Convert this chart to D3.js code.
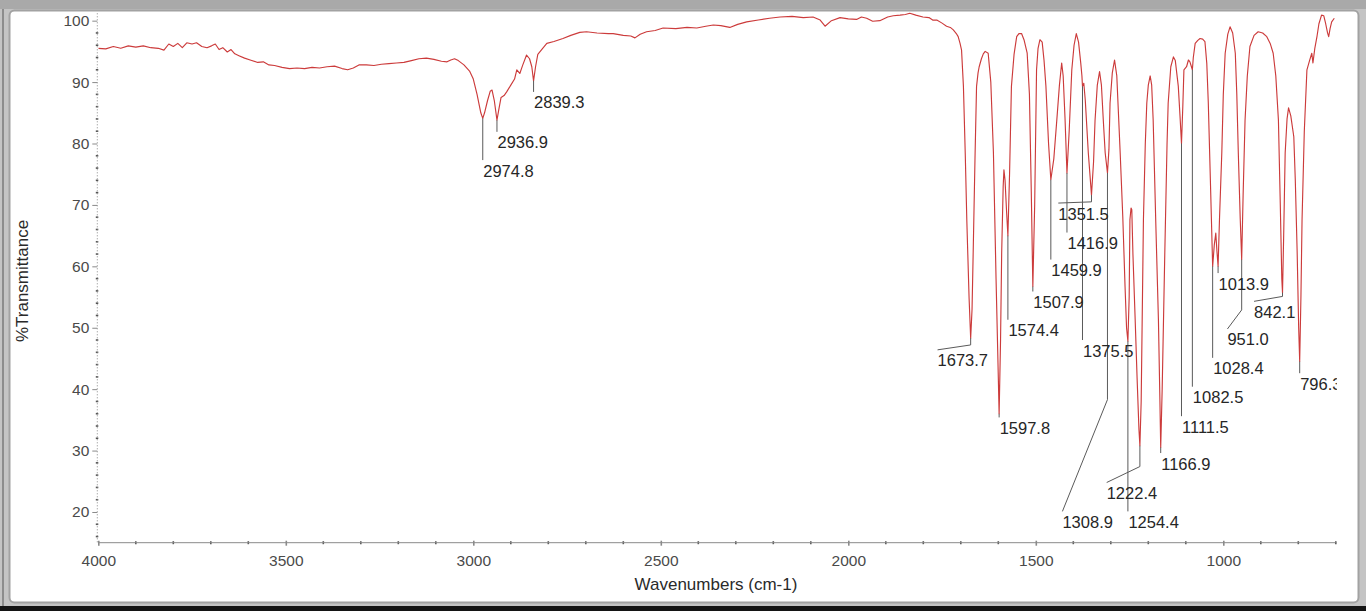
<!DOCTYPE html>
<html>
<head>
<meta charset="utf-8">
<script src="https://cdn.jsdelivr.net/npm/d3@7/dist/d3.min.js"></script>
<style>
    html, body { margin: 0; padding: 0; background: #c4c4c4; }
    svg { display: block; }
    .axis text { font-family: "Liberation Sans", Arial, sans-serif; font-size: 15.5px; fill: #4a4a4a; }
    .axis path, .axis line { stroke: #8a8a8a; }
    .peak-label { font-family: "Liberation Sans", Arial, sans-serif; font-size: 16.5px; fill: #262626; }
    .title { font-family: "Liberation Sans", Arial, sans-serif; font-size: 17px; fill: #2a2a2a; }
</style>
</head>
<body>
<div id="chart"></div>
<script>
// Spectrum as [wavenumber, %T], split by region
const highRegion = [
    [4000, 95.5], [3980, 95.4], [3960, 95.8], [3940, 95.5], [3920, 95.9], [3900, 95.7], [3880, 95.9],
    [3860, 95.6], [3840, 95.5], [3825, 95.2], [3812, 96.2], [3800, 95.8], [3788, 96.3], [3776, 95.6],
    [3764, 96.4], [3750, 96.2], [3738, 96.4], [3724, 95.8], [3710, 95.6], [3698, 95.9], [3688, 96.2],
    [3678, 95.3], [3668, 95.6], [3656, 94.9], [3646, 95.3], [3636, 94.6], [3625, 94.3], [3610, 93.9],
    [3595, 93.6], [3575, 93.2], [3560, 93.3], [3545, 92.8], [3530, 92.7], [3510, 92.4], [3490, 92.2],
    [3470, 92.3], [3450, 92.2], [3430, 92.4], [3410, 92.3], [3390, 92.5], [3370, 92.6], [3350, 92.2],
    [3335, 92.0], [3320, 92.3], [3305, 92.8], [3285, 92.8], [3265, 92.7], [3245, 92.9], [3225, 93.0],
    [3205, 93.1], [3185, 93.2], [3165, 93.5], [3145, 93.8], [3125, 93.9], [3105, 93.7], [3085, 93.4],
    [3070, 93.3], [3060, 93.6], [3050, 93.8], [3040, 93.5], [3025, 92.8]
];

const chStretch = [
    [3010, 91.8], [3000, 90.5], [2990, 88.0], [2980, 85.0], [2974.8, 84.1], [2970, 85.0], [2962, 87.0],
    [2955, 88.5], [2950, 88.7], [2944, 87.0], [2936.9, 83.8], [2932, 85.5], [2926, 87.5], [2918, 87.8],
    [2911, 88.4], [2900, 89.5], [2890, 90.5], [2884, 92.0], [2876, 91.4], [2868, 92.8], [2858, 94.4],
    [2850, 93.8], [2844, 92.5], [2839.3, 90.2], [2834, 92.5], [2828, 94.5], [2815, 95.5], [2804, 96.3]
];

const midRegion = [
    [2785, 96.6], [2761, 97.1], [2740, 97.6], [2716, 98.1], [2698, 98.2], [2670, 98.0], [2640, 97.9],
    [2627, 97.9], [2600, 97.6], [2580, 97.5], [2569, 97.2], [2555, 97.8], [2538, 98.2], [2515, 98.4],
    [2494, 98.8], [2460, 98.7], [2430, 98.9], [2404, 98.8], [2380, 99.1], [2360, 99.3], [2340, 99.2],
    [2316, 98.9], [2295, 99.4], [2271, 99.8], [2240, 100.1], [2210, 100.4], [2182, 100.6], [2150, 100.7],
    [2120, 100.5], [2094, 100.6], [2075, 100.1], [2062, 99.1], [2045, 100.0], [2022, 100.5], [2000, 100.3],
    [1978, 100.2], [1965, 100.6], [1951, 100.4], [1935, 99.9], [1916, 100.0], [1895, 100.6], [1880, 100.8],
    [1862, 100.9], [1848, 101.0], [1836, 101.2], [1820, 100.9], [1801, 100.6], [1785, 100.5], [1775, 100.1],
    [1764, 100.1], [1750, 99.6], [1738, 99.1], [1728, 98.9], [1720, 98.5], [1712, 97.9], [1707, 97.4],
    [1702, 96.3], [1698, 95.2]
];

const fingerprint = [
    [1693, 89.3], [1688, 78.0], [1684, 67.6], [1678, 55.0], [1673.7, 48.3], [1670, 53.0], [1667, 62.2],
    [1662, 78.0], [1658, 89.3], [1654, 91.5], [1651, 92.5], [1645, 93.8], [1640, 94.6], [1635, 95.0],
    [1627, 94.7], [1620, 90.0], [1613, 78.5], [1606, 58.0], [1600, 42.0], [1597.8, 36.0], [1594, 48.0],
    [1591, 62.2], [1587, 73.0], [1585, 75.7], [1582, 74.0], [1578, 69.0], [1574.4, 65.0], [1570, 75.0],
    [1565, 89.3], [1558, 94.5], [1551, 97.4], [1545, 97.9], [1538, 97.9], [1531, 96.8], [1523, 94.7],
    [1517, 88.0], [1512, 72.0], [1507.9, 56.7], [1503, 70.0], [1498, 92.0], [1494, 95.5], [1489, 96.9],
    [1483, 96.5], [1478, 93.5], [1473, 89.3], [1466, 80.0], [1459.9, 74.1], [1452, 77.5], [1444, 83.8],
    [1437, 89.5], [1431, 93.1], [1427, 91.0], [1422, 84.0], [1416.9, 75.2], [1411, 82.0], [1404, 92.0],
    [1398, 96.0], [1392, 97.9], [1386, 96.5], [1380, 93.0], [1377, 91.0], [1375.5, 89.3], [1372, 89.8],
    [1368, 87.0], [1360, 78.5], [1351.5, 71.6], [1346, 77.0], [1342, 83.8], [1336, 89.5], [1330, 91.7],
    [1325, 89.5], [1320, 83.8], [1315, 78.5], [1308.9, 75.2], [1305, 79.0], [1302, 86.6], [1296, 91.5],
    [1290, 93.6], [1284, 91.0], [1275, 78.5], [1268, 68.0], [1262, 56.7], [1258, 50.0], [1254.4, 47.8],
    [1251, 55.0], [1249, 67.6], [1246, 69.5], [1244, 69.2], [1241, 62.0], [1235, 51.3], [1230, 42.0],
    [1225, 33.5], [1222.4, 30.8], [1219, 38.0], [1213, 67.6], [1208, 80.0], [1204, 86.6], [1200, 89.5],
    [1195, 91.0], [1191, 89.5], [1187, 83.8], [1180, 67.0], [1173, 51.3], [1169, 38.0], [1166.9, 30.5],
    [1163, 40.0], [1156, 62.2], [1150, 80.0], [1147, 86.6], [1140, 92.5], [1133, 94.1], [1128, 93.5],
    [1120, 89.3], [1115, 84.0], [1111.5, 80.0], [1108, 86.0], [1105, 92.0], [1098, 92.5], [1093, 93.6],
    [1089, 93.3], [1085, 92.5], [1082.5, 92.0], [1080, 94.0], [1075, 96.3], [1068, 96.8], [1062, 97.1],
    [1055, 97.0], [1049, 96.6], [1044, 93.0], [1040, 86.6], [1034, 73.0], [1028.4, 60.0], [1024, 63.5],
    [1020, 65.4], [1017, 62.5], [1013.9, 60.0], [1010, 68.0], [1004, 78.5], [1000, 88.0], [995, 94.7],
    [988, 97.8], [982, 99.0], [975, 98.0], [968, 94.7], [964, 88.0], [960, 78.5], [955, 68.0], [951.0, 61.1],
    [947, 72.0], [942, 83.8], [936, 91.0], [929, 95.8], [918, 97.6], [907, 98.2], [895, 98.0], [884, 97.4],
    [875, 96.3], [867, 94.7], [860, 91.0], [853, 83.8], [848, 70.0], [844, 58.0], [842.1, 55.7], [839, 65.0],
    [835, 78.5], [830, 84.0], [826, 85.8], [820, 84.5], [812, 81.1], [808, 74.0], [803, 62.2], [799, 50.0],
    [796.3, 44.5], [793, 55.0], [790, 67.6], [784, 82.0], [777, 92.0], [770, 93.5], [764, 94.7], [761, 93.1],
    [756, 95.5], [750, 97.5], [745, 99.5], [738, 100.9], [732, 100.8], [727, 99.5], [722, 98.0], [719, 97.4],
    [715, 98.8], [711, 99.8], [704, 100.4]
];

// Peak labels: text, peak wavenumber, where the leader ends (wavenumber, %T), optional bend level
const peakLabels = [
    { text: '2974.8', wn: 2974.8, endWn: 2974.8, endT: 77.3 },
    { text: '2936.9', wn: 2936.9, endWn: 2936.9, endT: 81.9 },
    { text: '2839.3', wn: 2839.3, endWn: 2839.3, endT: 88.4 },
    { text: '1673.7', wn: 1673.7, bendT: 47.2, endWn: 1762, endT: 46.4 },
    { text: '1597.8', wn: 1597.8, endWn: 1597.8, endT: 35.4 },
    { text: '1574.4', wn: 1574.4, endWn: 1574.4, endT: 51.3 },
    { text: '1507.9', wn: 1507.9, endWn: 1507.9, endT: 55.9 },
    { text: '1459.9', wn: 1459.9, endWn: 1459.9, endT: 61.1 },
    { text: '1416.9', wn: 1416.9, endWn: 1416.9, endT: 65.5 },
    { text: '1375.5', wn: 1375.5, endWn: 1375.5, endT: 48.0 },
    { text: '1351.5', wn: 1351.5, bendT: 70.5, endWn: 1440, endT: 70.3 },
    { text: '1308.9', wn: 1308.9, bendT: 38.3, endWn: 1429, endT: 20.1 },
    { text: '1254.4', wn: 1254.4, endWn: 1254.4, endT: 20.1 },
    { text: '1222.4', wn: 1222.4, bendT: 27.4, endWn: 1311, endT: 24.8 },
    { text: '1166.9', wn: 1166.9, endWn: 1166.9, endT: 29.6 },
    { text: '1111.5', wn: 1111.5, endWn: 1111.5, endT: 35.6 },
    { text: '1082.5', wn: 1082.5, endWn: 1082.5, endT: 40.4 },
    { text: '1028.4', wn: 1028.4, endWn: 1028.4, endT: 45.1 },
    { text: '1013.9', wn: 1013.9, endWn: 1013.9, endT: 58.9 },
    { text: '951.0', wn: 951.0, bendT: 52.9, endWn: 989, endT: 49.8 },
    { text: '842.1', wn: 842.1, bendT: 55.1, endWn: 918, endT: 54.3 },
    { text: '796.3', wn: 796.3, endWn: 796.3, endT: 42.6 }
];

const xDomain = [4000, 700];
const yDomain = [15, 101.2];
const xMajorTicks = [4000, 3500, 3000, 2500, 2000, 1500, 1000];
const yMajorTicks = [20, 30, 40, 50, 60, 70, 80, 90, 100];

const spectrum = highRegion.concat(chStretch, midRegion, fingerprint);

// Layout
const width = 1366;
const height = 611;
const plotLeft = 98.3, plotRight = 1335.8, plotTop = 13.3, plotBottom = 542.7;

const svg = d3.select('#chart').append('svg')
    .attr('width', width)
    .attr('height', height);

// window chrome around the plot
svg.append('rect').attr('width', width).attr('height', height).attr('fill', '#c4c4c4');
svg.append('rect').attr('width', width).attr('height', 9).attr('fill', '#a9a9a9');
svg.append('rect').attr('y', 606).attr('width', width).attr('height', 5).attr('fill', '#141414');
svg.append('line').attr('x1', 3).attr('x2', 3).attr('y1', 9).attr('y2', 606).attr('stroke', '#8c8c8c').attr('stroke-width', 2);
svg.append('rect')
    .attr('x', 9.5).attr('y', 10.5)
    .attr('width', 1349).attr('height', 592)
    .attr('rx', 5)
    .attr('fill', '#ffffff')
    .attr('stroke', '#a2a2a2')
    .attr('stroke-width', 2);

// Scales
const xScale = d3.scaleLinear().domain(xDomain).range([plotLeft, plotRight]);
const yScale = d3.scaleLinear().domain(yDomain).range([plotBottom, plotTop]);

svg.append('clipPath').attr('id', 'plot-clip')
    .append('rect')
    .attr('x', plotLeft).attr('y', plotTop - 4)
    .attr('width', plotRight - plotLeft + 1).attr('height', plotBottom - plotTop + 4);

// Minor ticks
const xMinor = d3.range(700, 4001, 100).filter(d => xMajorTicks.indexOf(d) < 0);
const yMinor = d3.range(16, 101, 2).filter(d => yMajorTicks.indexOf(d) < 0);

const minorG = svg.append('g').attr('class', 'minor');
minorG.selectAll('line.xm')
    .data(xMinor)
    .join('line')
    .attr('class', 'xm')
    .attr('x1', d => xScale(d)).attr('x2', d => xScale(d))
    .attr('y1', plotBottom - 1.5).attr('y2', plotBottom + 1.5)
    .attr('stroke', '#555').attr('stroke-width', 1.6);
minorG.selectAll('line.ym')
    .data(yMinor)
    .join('line')
    .attr('class', 'ym')
    .attr('x1', plotLeft - 2.5).attr('x2', plotLeft)
    .attr('y1', d => yScale(d)).attr('y2', d => yScale(d))
    .attr('stroke', '#555').attr('stroke-width', 1.6);

// Axes
const xAxis = d3.axisBottom(xScale).tickValues(xMajorTicks).tickSize(3).tickPadding(9).tickFormat(d3.format('d'));
const yAxis = d3.axisLeft(yScale).tickValues(yMajorTicks).tickSize(5).tickPadding(3).tickFormat(d3.format('d'));

svg.append('g')
    .attr('class', 'x axis')
    .attr('transform', 'translate(0,' + plotBottom + ')')
    .call(xAxis)
    .call(g => g.select('.domain').attr('d', 'M' + plotLeft + ',0H' + plotRight))
    .call(g => g.selectAll('.tick line').attr('y1', -2).attr('stroke', '#555').attr('stroke-width', 1.6));

svg.append('g')
    .attr('class', 'y axis')
    .attr('transform', 'translate(' + (plotLeft - 1) + ',0)')
    .call(yAxis)
    .call(g => g.select('.domain').attr('d', 'M0,' + plotTop + 'V' + plotBottom).attr('stroke', '#aaa').attr('stroke-dasharray', '1,2'))
    .call(g => g.selectAll('.tick line').attr('stroke', '#666'));

// Axis titles
svg.append('text')
    .attr('class', 'title')
    .attr('x', 716).attr('y', 590)
    .attr('text-anchor', 'middle')
    .text('Wavenumbers (cm-1)');

svg.append('text')
    .attr('class', 'title')
    .attr('transform', 'translate(28,281) rotate(-90)')
    .attr('text-anchor', 'middle')
    .text('%Transmittance');

// Spectrum line
const line = d3.line()
    .x(d => xScale(d[0]))
    .y(d => yScale(d[1]));

const plot = svg.append('g').attr('clip-path', 'url(#plot-clip)');

plot.append('path')
    .datum(spectrum)
    .attr('fill', 'none')
    .attr('stroke', '#cc3b3b')
    .attr('stroke-width', 1.15)
    .attr('stroke-linejoin', 'round')
    .attr('d', line);

// transmittance at a wavenumber, for the start of each leader
const bisect = d3.bisector(d => -d[0]).left;
function valueAt(wn) {
    let i = bisect(spectrum, -wn);
    if (i <= 0) return spectrum[0][1];
    if (i >= spectrum.length) return spectrum[spectrum.length - 1][1];
    let a = spectrum[i - 1], b = spectrum[i];
    let t = (wn - a[0]) / (b[0] - a[0]);
    return a[1] + t * (b[1] - a[1]);
}

// Leaders and peak labels
plot.selectAll('path.leader')
    .data(peakLabels)
    .join('path')
    .attr('class', 'leader')
    .attr('fill', 'none')
    .attr('stroke', '#5a5a5a')
    .attr('stroke-width', 1)
    .attr('d', d => {
        let x0 = xScale(d.wn);
        let p = 'M' + x0 + ',' + yScale(valueAt(d.wn));
        if (d.bendT !== undefined) p += 'L' + x0 + ',' + yScale(d.bendT);
        return p + 'L' + xScale(d.endWn) + ',' + yScale(d.endT);
    });

plot.selectAll('text.peak-label')
    .data(peakLabels)
    .join('text')
    .attr('class', 'peak-label')
    .attr('x', d => xScale(d.endWn) + (d.bendT !== undefined ? 0 : 0.5))
    .attr('y', d => yScale(d.endT) + 16.5)
    .text(d => d.text);
</script>
</body>
</html>
